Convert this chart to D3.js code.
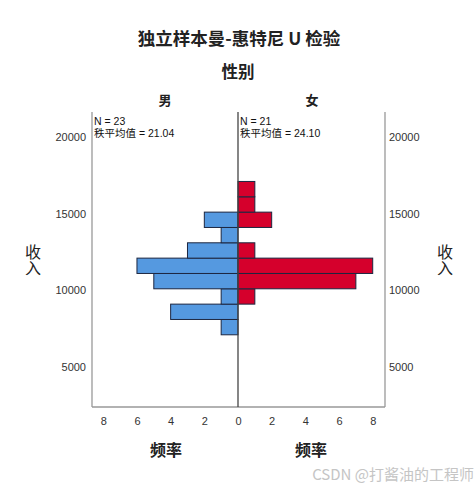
<!DOCTYPE html>
<html><head><meta charset="utf-8">
<script src="https://cdn.jsdelivr.net/npm/d3@7/dist/d3.min.js"></script>
<style>
body{margin:0;background:#fff;}
svg{display:block;}
</style></head>
<body>
<svg id="chart" width="474" height="489"></svg>
<script>
// ---- data ----
const binLower = [7100, 8100, 9100, 10100, 11100, 12100, 13100, 14100, 15100, 16100];
const binWidth = 1000;
const maleCounts = [1, 4, 1, 5, 6, 3, 1, 2, 0, 0];
const femaleCounts = [0, 0, 1, 7, 8, 1, 0, 2, 1, 1];
const yTicks = [5000, 10000, 15000, 20000];
const xTicks = [0, 2, 4, 6, 8];
const groups = ["男", "女"];
const groupStats = [["N = 23", "秩平均值 = 21.04"], ["N = 21", "秩平均值 = 24.10"]];
const title = "独立样本曼-惠特尼 U 检验";
const subtitle = "性别";
const yLabel = "收入";
const xLabel = "频率";

(function () {
const svg = d3.select("#chart");
const sans = "'Liberation Sans', Arial, 'Noto Sans CJK SC', sans-serif";
const cjk = "'Noto Sans CJK SC', sans-serif";

const plotTop = 112, plotBottom = 407, cx = 238, leftX = 92, rightX = 385;
const y = d3.scaleLinear().domain([2391, 21630]).range([plotBottom, plotTop]);
const xL = d3.scaleLinear().domain([0, 8.67]).range([cx, leftX]);
const xR = d3.scaleLinear().domain([0, 8.73]).range([cx, rightX]);

// titles
svg.append("text").attr("x", 239).attr("y", 45).attr("text-anchor", "middle")
  .attr("font-family", cjk).attr("font-weight", "bold").attr("font-size", 17.5).attr("fill", "#222").text(title);
svg.append("text").attr("x", 238).attr("y", 78).attr("text-anchor", "middle")
  .attr("font-family", cjk).attr("font-weight", "bold").attr("font-size", 16.5).attr("fill", "#222").text(subtitle);

// group labels
svg.append("text").attr("x", 165).attr("y", 105).attr("text-anchor", "middle")
  .attr("font-family", cjk).attr("font-weight", "bold").attr("font-size", 13).attr("fill", "#222").text(groups[0]);
svg.append("text").attr("x", 312).attr("y", 105).attr("text-anchor", "middle")
  .attr("font-family", cjk).attr("font-weight", "bold").attr("font-size", 13).attr("fill", "#222").text(groups[1]);

// bars
const data = binLower.map((b, i) => ({lo: b, hi: b + binWidth, m: maleCounts[i], f: femaleCounts[i]}));
const barStroke = "#1c2640";
svg.append("g").selectAll("rect").data(data.filter(d => d.m > 0)).join("rect")
  .attr("x", d => xL(d.m)).attr("width", d => xL(0) - xL(d.m))
  .attr("y", d => y(d.hi)).attr("height", d => y(d.lo) - y(d.hi))
  .attr("fill", "#5599e0").attr("stroke", barStroke).attr("stroke-width", 1);
svg.append("g").selectAll("rect").data(data.filter(d => d.f > 0)).join("rect")
  .attr("x", xR(0)).attr("width", d => xR(d.f) - xR(0))
  .attr("y", d => y(d.hi)).attr("height", d => y(d.lo) - y(d.hi))
  .attr("fill", "#d5002c").attr("stroke", barStroke).attr("stroke-width", 1);

// frame
const frame = svg.append("g").attr("fill", "none");
frame.append("line").attr("x1", leftX).attr("x2", leftX).attr("y1", plotTop).attr("y2", plotBottom).attr("stroke", "#999").attr("stroke-width", 1.3);
frame.append("line").attr("x1", rightX).attr("x2", rightX).attr("y1", plotTop).attr("y2", plotBottom).attr("stroke", "#999").attr("stroke-width", 1.3);
frame.append("line").attr("x1", leftX).attr("x2", rightX).attr("y1", plotBottom).attr("y2", plotBottom).attr("stroke", "#999").attr("stroke-width", 1.3);
frame.append("line").attr("x1", cx).attr("x2", cx).attr("y1", plotTop).attr("y2", plotBottom).attr("stroke", "#444").attr("stroke-width", 1.3);

// y axes (left & right)
const yAxL = d3.axisLeft(y).tickValues(yTicks).tickSize(0).tickPadding(6).tickFormat(d3.format("d"));
const yAxR = d3.axisRight(y).tickValues(yTicks).tickSize(0).tickPadding(4).tickFormat(d3.format("d"));
const gyl = svg.append("g").attr("transform", `translate(${leftX},0)`).call(yAxL);
const gyr = svg.append("g").attr("transform", `translate(${rightX},0)`).call(yAxR);
[gyl, gyr].forEach(g => {
  g.select(".domain").remove();
  g.selectAll("text").attr("font-family", sans).attr("font-size", 11).attr("fill", "#333");
});

// x axes
const xAxL = d3.axisBottom(xL).tickValues(xTicks).tickSize(0).tickPadding(10);
const xAxR = d3.axisBottom(xR).tickValues(xTicks.filter(d => d > 0)).tickSize(0).tickPadding(10);
const gxl = svg.append("g").attr("transform", `translate(0,${plotBottom})`).call(xAxL);
const gxr = svg.append("g").attr("transform", `translate(0,${plotBottom})`).call(xAxR);
[gxl, gxr].forEach(g => {
  g.select(".domain").remove();
  g.selectAll("text").attr("font-family", sans).attr("font-size", 11).attr("fill", "#333");
});

// stats text
[[leftX + 2, groupStats[0]], [cx + 2, groupStats[1]]].forEach(([x0, lines]) => {
  lines.forEach((t, i) => {
    svg.append("text").attr("x", x0).attr("y", 125 + i * 12)
      .attr("font-family", sans).attr("font-size", 10.5).attr("fill", "#111").text(t);
  });
});

// y labels (vertical)
[33, 445].forEach(xx => {
  svg.append("text").attr("x", xx).attr("y", 260).attr("text-anchor", "middle")
    .style("writing-mode", "vertical-rl")
    .attr("font-family", cjk).attr("font-size", 16).attr("fill", "#222").text(yLabel);
});

// x labels
[166, 311].forEach(xx => {
  svg.append("text").attr("x", xx).attr("y", 456).attr("text-anchor", "middle")
    .attr("font-family", cjk).attr("font-weight", "bold").attr("font-size", 16).attr("fill", "#222").text(xLabel);
});

// watermark
svg.append("text").attr("x", 474).attr("y", 480).attr("text-anchor", "end")
  .attr("font-family", cjk).attr("font-size", 15).attr("fill", "#bbb").attr("opacity", 0.85).text("CSDN @打酱油的工程师");
})();
</script>
</body></html>
